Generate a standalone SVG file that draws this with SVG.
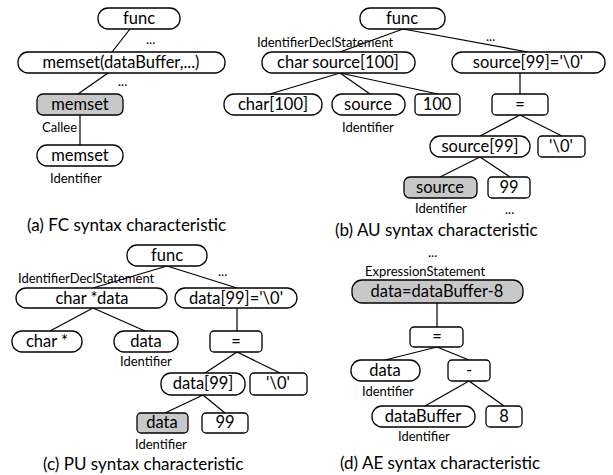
<svg xmlns="http://www.w3.org/2000/svg" width="613" height="475" viewBox="0 0 613 475">
<style>
rect{stroke:#000;stroke-width:1.3;fill:#fff}
.p{rx:10}
.s{rx:4}
.g{fill:#c8c8c8}
text{font-family:Lato,"Open Sans",sans-serif;fill:#000}
.n{font-size:16.5px;text-anchor:middle}
.l{font-size:13px}
.c{font-size:17px}
#edges line{stroke:#000;stroke-width:1.2}
</style>
<rect width="613" height="475" style="fill:#fff;stroke:none"/>
<g id="edges">
<line x1="130" y1="29" x2="112" y2="52"/>
<line x1="108" y1="73" x2="78" y2="94"/>
<line x1="80" y1="115" x2="80" y2="145"/>
<line x1="403" y1="29" x2="340" y2="52"/>
<line x1="403" y1="29" x2="528" y2="52"/>
<line x1="340" y1="73" x2="270" y2="94"/>
<line x1="340" y1="73" x2="370" y2="94"/>
<line x1="340" y1="73" x2="438" y2="94"/>
<line x1="520" y1="73" x2="520" y2="94"/>
<line x1="520" y1="115" x2="480" y2="136"/>
<line x1="520" y1="115" x2="562" y2="136"/>
<line x1="480" y1="157" x2="440" y2="177"/>
<line x1="480" y1="157" x2="510" y2="177"/>
<line x1="167" y1="266" x2="93" y2="288"/>
<line x1="167" y1="266" x2="237" y2="288"/>
<line x1="93" y1="308" x2="50" y2="331"/>
<line x1="93" y1="308" x2="145" y2="331"/>
<line x1="237" y1="308" x2="237" y2="331"/>
<line x1="237" y1="352" x2="205" y2="373"/>
<line x1="237" y1="352" x2="280" y2="373"/>
<line x1="203" y1="395" x2="165" y2="413"/>
<line x1="203" y1="395" x2="225" y2="413"/>
<line x1="437" y1="303" x2="437" y2="327"/>
<line x1="437" y1="347" x2="385" y2="360"/>
<line x1="437" y1="347" x2="469" y2="360"/>
<line x1="469" y1="381" x2="425" y2="406"/>
<line x1="469" y1="381" x2="504" y2="406"/>
</g>
<!-- panel a -->
<g id="a_func"><rect class="p" x="98" y="8" width="82" height="21"/><text class="n" x="139" y="24">func</text></g>
<text class="l" x="146" y="44">...</text>
<g id="a_call"><rect class="p" x="18" y="52" width="207" height="21"/><text class="n" x="121" y="68">memset(dataBuffer,...)</text></g>
<text class="l" x="118" y="86">...</text>
<g id="a_callee"><rect class="s g" style="rx:6" x="37" y="94" width="86" height="21"/><text class="n" x="80" y="110">memset</text></g>
<text class="l" x="42" y="132">Callee</text>
<g id="a_ident"><rect class="p" x="37" y="145" width="86" height="21"/><text class="n" x="80" y="161">memset</text></g>
<text class="l" x="50" y="183">Identifier</text>
<text class="c" x="27" y="231">(a) FC syntax characteristic</text>
<!-- panel b -->
<g id="b_func"><rect class="p" x="360" y="8" width="85" height="21"/><text class="n" x="402" y="24">func</text></g>
<text class="l" x="257" y="47">IdentifierDeclStatement</text>
<text class="l" x="486" y="41">...</text>
<g id="b_decl"><rect class="p" x="262" y="52" width="153" height="21"/><text class="n" x="338" y="68">char source[100]</text></g>
<g id="b_assign"><rect class="p" x="452" y="52" width="153" height="21"/><text class="n" x="528" y="68">source[99]='\0'</text></g>
<g id="b_type"><rect class="p" x="224" y="94" width="98" height="21"/><text class="n" x="273" y="110">char[100]</text></g>
<g id="b_src"><rect class="p" x="332" y="94" width="73" height="21"/><text class="n" x="368" y="110">source</text></g>
<text class="l" x="342" y="132">Identifier</text>
<g id="b_100"><rect class="s" x="415" y="94" width="45" height="21"/><text class="n" x="437" y="110">100</text></g>
<g id="b_eq"><rect class="s" x="492" y="94" width="56" height="21"/><text class="n" x="520" y="110">=</text></g>
<g id="b_idx"><rect class="p" x="430" y="136" width="100" height="21"/><text class="n" x="480" y="152">source[99]</text></g>
<g id="b_nul"><rect class="s" x="538" y="136" width="47" height="21"/><text class="n" x="561" y="152">'\0'</text></g>
<g id="b_srcg"><rect class="s g" style="rx:6" x="404" y="177" width="73" height="21"/><text class="n" x="440" y="193">source</text></g>
<g id="b_99"><rect class="s" x="488" y="177" width="42" height="21"/><text class="n" x="509" y="193">99</text></g>
<text class="l" x="415" y="213">Identifier</text>
<text class="l" x="505" y="214">...</text>
<text class="c" x="335" y="236">(b) AU syntax characteristic</text>
<!-- panel c -->
<g id="c_func"><rect class="p" x="127" y="245" width="80" height="21"/><text class="n" x="167" y="261">func</text></g>
<text class="l" x="18" y="283">IdentifierDeclStatement</text>
<text class="l" x="218" y="276">...</text>
<g id="c_decl"><rect class="p" x="16" y="288" width="151" height="20"/><text class="n" x="92" y="304">char *data</text></g>
<g id="c_assign"><rect class="p" x="175" y="288" width="122" height="20"/><text class="n" x="236" y="304">data[99]='\0'</text></g>
<g id="c_type"><rect class="p" x="12" y="331" width="70" height="21"/><text class="n" x="47" y="347">char *</text></g>
<g id="c_data"><rect class="p" x="114" y="331" width="64" height="21"/><text class="n" x="146" y="347">data</text></g>
<text class="l" x="120" y="366">Identifier</text>
<g id="c_eq"><rect class="s" x="210" y="331" width="52" height="21"/><text class="n" x="236" y="347">=</text></g>
<g id="c_idx"><rect class="p" x="161" y="373" width="84" height="22"/><text class="n" x="203" y="389">data[99]</text></g>
<g id="c_nul"><rect class="s" x="250" y="373" width="57" height="22"/><text class="n" x="278" y="389">'\0'</text></g>
<g id="c_datag"><rect class="s g" x="137" y="413" width="51" height="20"/><text class="n" x="162" y="428">data</text></g>
<g id="c_99"><rect class="s" x="202" y="413" width="46" height="20"/><text class="n" x="225" y="428">99</text></g>
<text class="l" x="135" y="449">Identifier</text>
<text class="c" x="43" y="470">(c) PU syntax characteristic</text>
<!-- panel d -->
<text class="l" x="428" y="257">...</text>
<text class="l" x="365" y="276">ExpressionStatement</text>
<g id="d_expr"><rect class="p g" x="352" y="280" width="171" height="23"/><text class="n" x="437" y="297">data=dataBuffer-8</text></g>
<g id="d_eq"><rect class="s" x="410" y="327" width="53" height="20"/><text class="n" x="437" y="342">=</text></g>
<g id="d_data"><rect class="p" x="351" y="360" width="69" height="21"/><text class="n" x="385" y="376">data</text></g>
<text class="l" x="362" y="396">Identifier</text>
<g id="d_minus"><rect class="s" x="448" y="360" width="42" height="21"/><text class="n" x="469" y="376">-</text></g>
<g id="d_buf"><rect class="p" x="372" y="406" width="103" height="21"/><text class="n" x="423" y="422">dataBuffer</text></g>
<g id="d_8"><rect class="s" x="486" y="406" width="36" height="21"/><text class="n" x="504" y="422">8</text></g>
<text class="l" x="398" y="441">Identifier</text>
<text class="c" x="340" y="469">(d) AE syntax characteristic</text>
</svg>
